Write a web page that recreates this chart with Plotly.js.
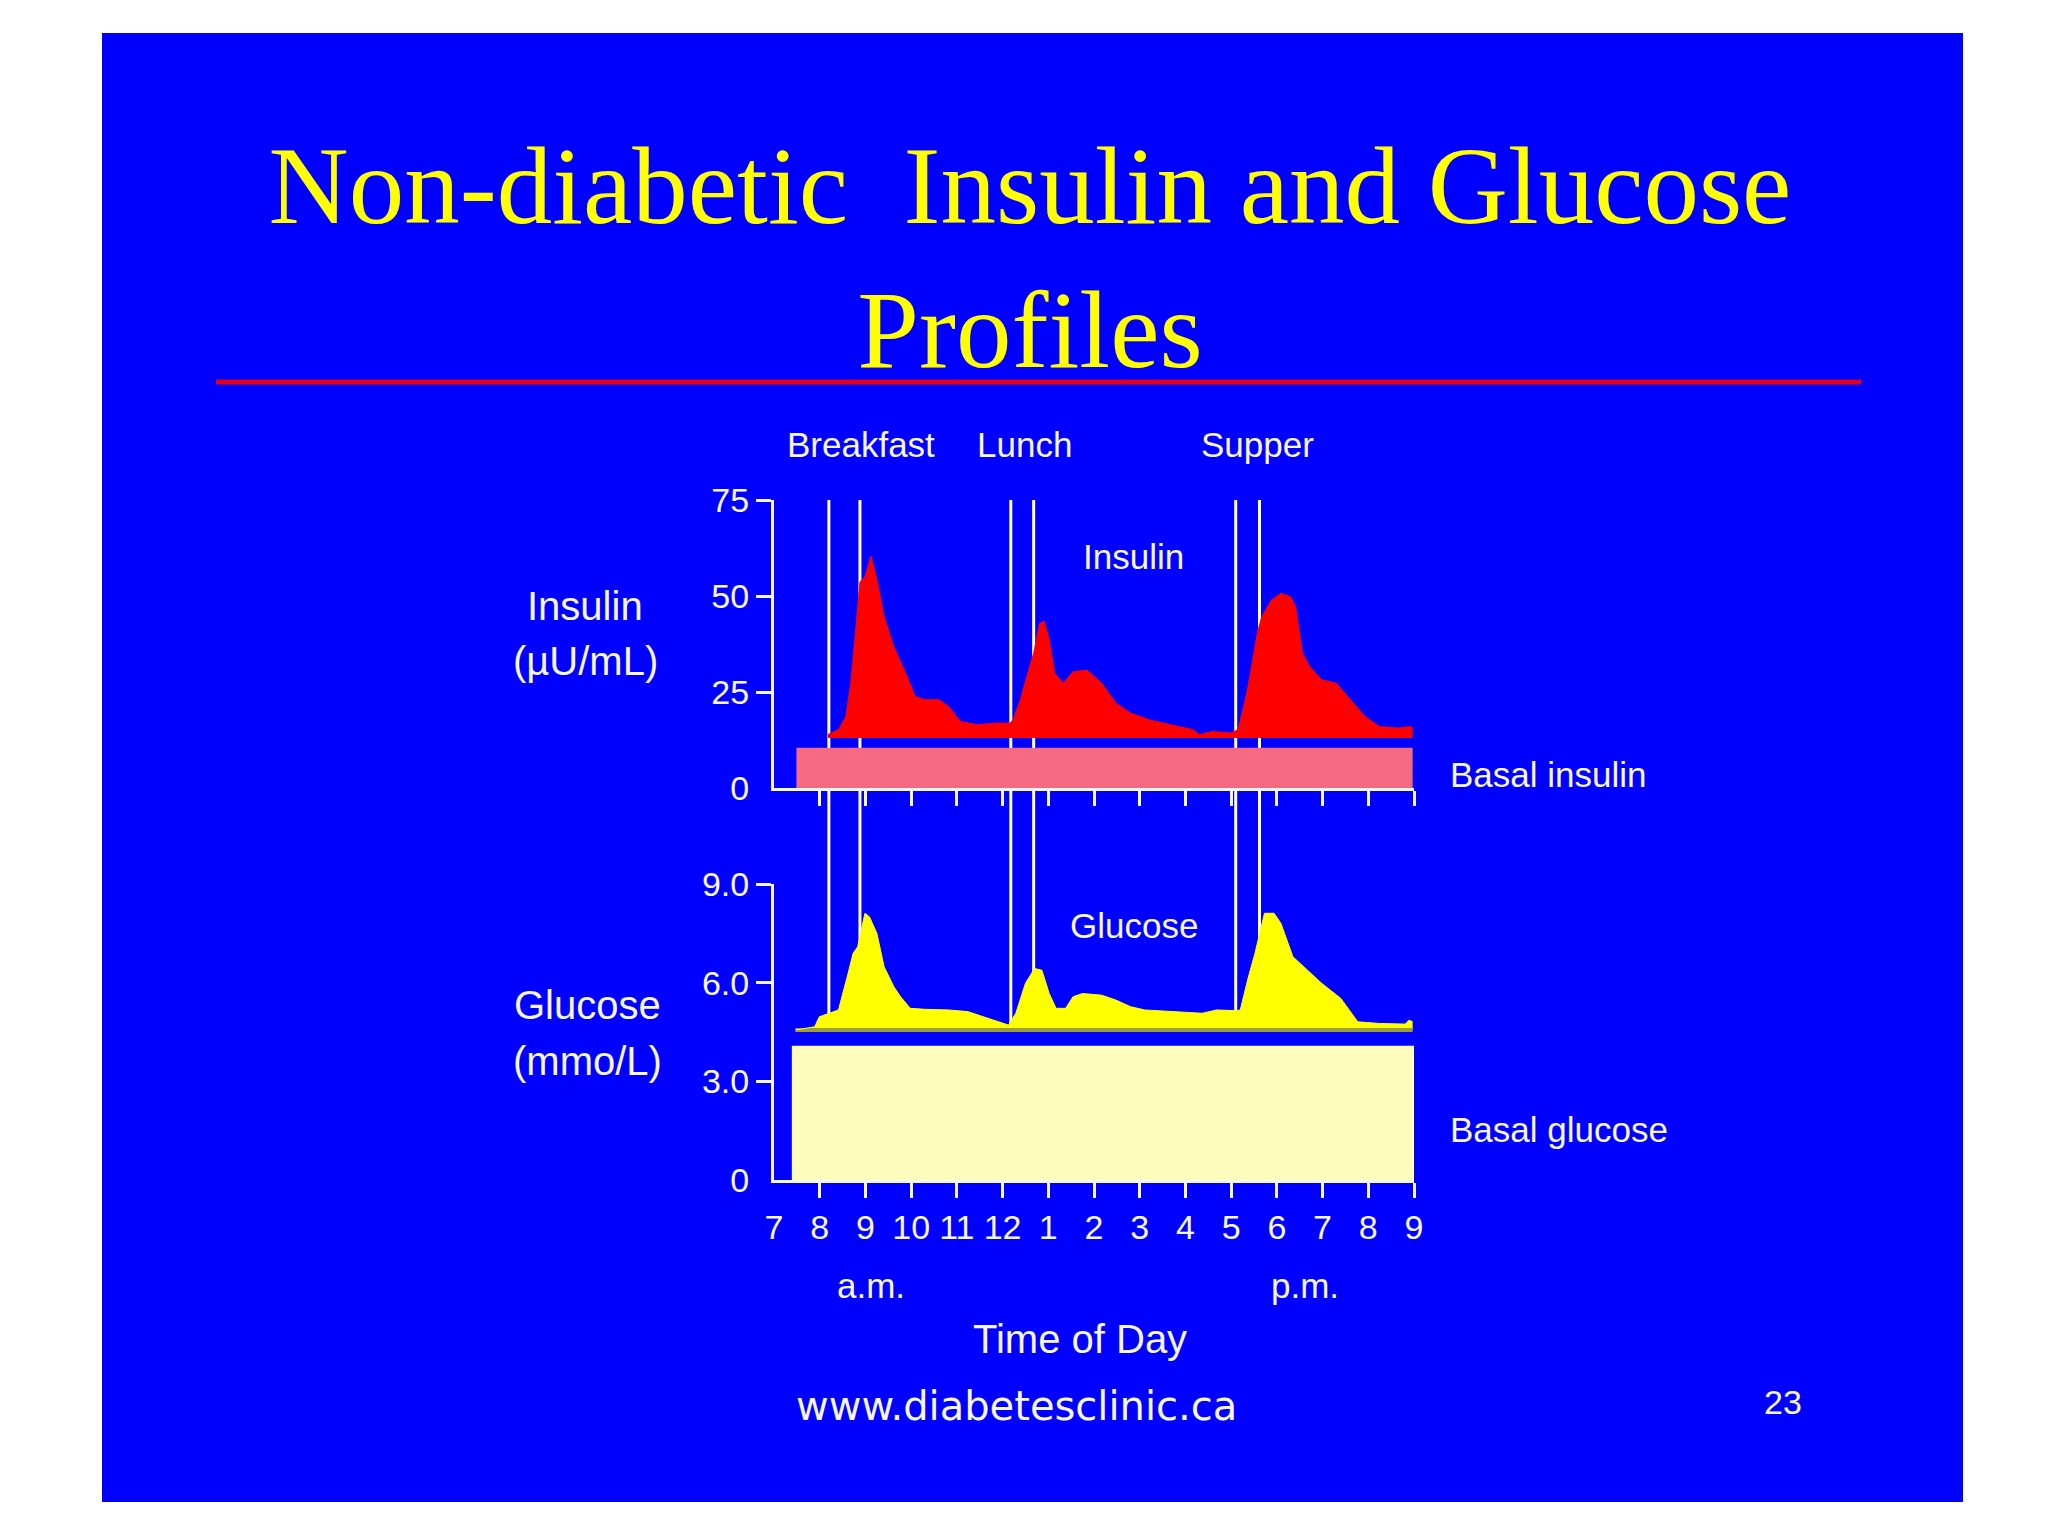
<!DOCTYPE html>
<html>
<head>
<meta charset="utf-8">
<script src="https://cdn.plot.ly/plotly-3.0.1.min.js"></script>
<style>
html, body { margin: 0; padding: 0; background: #ffffff; }
#chart { width: 2048px; height: 1536px; }
</style>
</head>
<body>
<div id="chart"></div>
<script>
// ---------------- data ----------------
const hourTicks = [7, 8, 9, 10, 11, 12, 13, 14, 15, 16, 17, 18, 19, 20, 21];
const hourLabels = ['7', '8', '9', '10', '11', '12', '1', '2', '3', '4', '5', '6', '7', '8', '9'];
const hourMarks = [8, 9, 10, 11, 12, 13, 14, 15, 16, 17, 18, 19, 20, 21];

const insulinTicks = [0, 25, 50, 75];
const insulinTickLabels = ['0', '25', '50', '75'];
const glucoseTicks = [0, 3, 6, 9];
const glucoseTickLabels = ['0', '3.0', '6.0', '9.0'];

const mealNames = ['Breakfast', 'Lunch', 'Supper'];
const mealStart = [8.2, 12.18, 17.1];
const mealEnd = [8.88, 12.68, 17.62];

const insulinTime = [8.18, 8.41, 8.57, 8.68, 8.78, 8.88, 8.99, 9.12, 9.25, 9.41, 9.62, 9.88, 10.09, 10.30,
  10.61, 10.82, 11.08, 11.45, 11.87, 12.16, 12.23, 12.39, 12.55, 12.68, 12.81, 12.91, 13.02, 13.14, 13.33,
  13.54, 13.85, 14.17, 14.48, 14.80, 15.22, 15.84, 16.16, 16.31, 16.58, 16.99, 17.15, 17.31, 17.41, 17.57,
  17.67, 17.88, 18.09, 18.30, 18.41, 18.56, 18.72, 18.98, 19.30, 19.61, 19.93, 20.24, 20.66, 20.92, 20.97];
const insulinValue = [13.9, 15.2, 18.6, 27.3, 40.3, 53.7, 55.0, 60.4, 54.2, 44.6, 36.8, 29.9, 23.8, 23.0,
  23.0, 21.2, 17.3, 16.5, 16.9, 16.9, 17.7, 23.0, 29.9, 35.1, 42.9, 43.4, 38.6, 29.9, 27.3,
  30.3, 30.7, 27.3, 22.1, 19.5, 17.7, 16.0, 15.2, 13.9, 14.7, 14.3, 15.2, 23.0, 29.0, 40.3,
  44.6, 48.9, 50.7, 49.8, 47.2, 35.1, 31.6, 28.2, 27.3, 23.0, 18.6, 16.0, 15.6, 16.0, 15.6];
const insulinBaseline = 13.0;
const basalInsulinSpan = [7.49, 20.97];
const basalInsulinLevel = 10.5;

const glucoseTime = [7.47, 7.89, 7.99, 8.41, 8.62, 8.73, 8.83, 8.99, 9.09, 9.25, 9.41, 9.62, 9.77, 9.98,
  10.30, 10.82, 11.24, 11.66, 12.13, 12.29, 12.50, 12.70, 12.86, 13.02, 13.17, 13.38, 13.54, 13.75, 14.17,
  14.48, 14.80, 15.11, 15.84, 16.37, 16.68, 17.10, 17.20, 17.36, 17.52, 17.73, 17.94, 18.09, 18.35, 18.67,
  18.98, 19.40, 19.77, 20.24, 20.81, 20.89, 20.97];
const glucoseValue = [4.56, 4.66, 4.96, 5.17, 6.28, 6.89, 7.09, 8.11, 8.00, 7.50, 6.48, 5.88, 5.57, 5.22,
  5.19, 5.17, 5.12, 4.92, 4.71, 5.07, 5.98, 6.43, 6.38, 5.67, 5.22, 5.22, 5.57, 5.67, 5.62,
  5.47, 5.27, 5.17, 5.12, 5.07, 5.17, 5.15, 5.17, 6.08, 6.89, 8.11, 8.11, 7.80, 6.79, 6.38,
  5.98, 5.52, 4.81, 4.76, 4.74, 4.86, 4.81];
const glucoseBaseline = 4.56;
const basalGlucoseSpan = [7.39, 21];
const basalGlucoseLevel = 4.08;

// ---------------- layout helpers ----------------
const W = 2048, H = 1536;
const px = v => v / W;
const py = v => 1 - v / H;

const xDomain = [px(774), px(1414)];
const insDomain = [py(788), py(500)];
const gluDomain = [py(1180), py(884)];

const WHITE = '#F6F6FF';
const SANS = 'Liberation Sans, Arial, sans-serif';

function lastOf(a) { return a[a.length - 1]; }

const traces = [
  { // basal insulin band
    x: basalInsulinSpan, y: [basalInsulinLevel, basalInsulinLevel],
    xaxis: 'x', yaxis: 'y', mode: 'lines', line: { width: 0, color: '#F56A80' },
    fill: 'tozeroy', fillcolor: '#F56A80', hoverinfo: 'skip', name: 'Basal insulin'
  },
  { // insulin fill baseline
    x: [insulinTime[0], lastOf(insulinTime)], y: [insulinBaseline, insulinBaseline],
    xaxis: 'x', yaxis: 'y', mode: 'lines', line: { width: 0, color: '#FF0000' },
    hoverinfo: 'skip', name: 'insulin base'
  },
  { // insulin profile
    x: insulinTime, y: insulinValue, xaxis: 'x', yaxis: 'y', mode: 'lines',
    line: { width: 1, color: '#FF0000' }, fill: 'tonexty', fillcolor: '#FF0000', name: 'Insulin'
  },
  { // basal glucose block
    x: basalGlucoseSpan, y: [basalGlucoseLevel, basalGlucoseLevel],
    xaxis: 'x2', yaxis: 'y2', mode: 'lines', line: { width: 0, color: '#FCFCBC' },
    fill: 'tozeroy', fillcolor: '#FCFCBC', hoverinfo: 'skip', name: 'Basal glucose'
  },
  { // glucose fill baseline
    x: [glucoseTime[0], lastOf(glucoseTime)], y: [glucoseBaseline, glucoseBaseline],
    xaxis: 'x2', yaxis: 'y2', mode: 'lines', line: { width: 4, color: '#9C9C46' },
    hoverinfo: 'skip', name: 'glucose base'
  },
  { // glucose profile
    x: glucoseTime, y: glucoseValue, xaxis: 'x2', yaxis: 'y2', mode: 'lines',
    line: { width: 1, color: '#FFFF00' }, fill: 'tonexty', fillcolor: '#FFFF00', name: 'Glucose'
  }
];

const baseAxis = {
  domain: xDomain, range: [7, 21], showline: true, linecolor: WHITE, linewidth: 3,
  showgrid: false, zeroline: false, fixedrange: true,
  tickfont: { family: SANS, size: 34, color: WHITE }
};

const lineBottom = gluDomain[0] + (glucoseBaseline / 9) * (gluDomain[1] - gluDomain[0]);
const shapes = [
  { type: 'rect', xref: 'paper', yref: 'paper', x0: px(102), x1: px(1963), y0: py(1502), y1: py(33),
    fillcolor: '#0000FF', line: { width: 0 }, layer: 'below' },
  { type: 'line', xref: 'paper', yref: 'paper', x0: px(216), x1: px(1861), y0: py(382), y1: py(382),
    line: { color: '#E0001C', width: 5 }, layer: 'below' }
];
mealStart.concat(mealEnd).forEach(t => {
  shapes.push({ type: 'line', xref: 'x', yref: 'paper', x0: t, x1: t, y0: lineBottom, y1: insDomain[1],
    line: { color: '#FFFFFF', width: 3 }, layer: 'below' });
});

function note(text, x, y, size, extra) {
  return Object.assign({ text: text, xref: 'paper', yref: 'paper', x: px(x), y: py(y),
    xanchor: 'center', yanchor: 'middle', showarrow: false,
    font: { family: SANS, size: size, color: WHITE } }, extra || {});
}

const annotations = [
  note(mealNames[0], 861, 444, 35),
  note(mealNames[1], 1024, 444, 35),
  note(mealNames[2], 1257, 444, 35),
  note('Insulin', 1133, 557, 35),
  note('Glucose', 1134, 925, 35),
  note('Insulin', 585, 606, 40),
  note('(µU/mL)', 585, 661, 40),
  note('Glucose', 587, 1005, 40),
  note('(mmo/L)', 587, 1061, 40),
  note('Basal insulin', 1448, 774, 35, { xanchor: 'left' }),
  note('Basal glucose', 1448, 1129, 35, { xanchor: 'left' }),
  note('a.m.', 871, 1285, 35),
  note('p.m.', 1305, 1285, 35),
  note('Time of Day', 1080, 1339, 40),
  note('www.diabetesclinic.ca', 1016, 1406, 40, { font: { family: 'DejaVu Sans, Verdana, sans-serif', size: 40, color: WHITE } }),
  note('23', 1783, 1402, 34)
];

const layout = {
  width: W, height: H,
  margin: { l: 0, r: 0, t: 0, b: 0, pad: 0 },
  paper_bgcolor: '#FFFFFF', plot_bgcolor: 'rgba(0,0,0,0)',
  showlegend: false,
  font: { family: SANS, size: 34, color: WHITE },
  title: {
    text: 'Non-diabetic\u00a0 Insulin and Glucose<br>Profiles',
    font: { family: 'Liberation Serif, Times New Roman, serif', size: 111, color: '#FFFF00' },
    xref: 'container', yref: 'container', x: px(1030), xanchor: 'center',
    y: py(223), yanchor: 'top'
  },
  xaxis: Object.assign({}, baseAxis, {
    anchor: 'y', tickmode: 'array', tickvals: hourMarks, ticks: 'outside', ticklen: 15, tickwidth: 3,
    tickcolor: WHITE, showticklabels: false
  }),
  xaxis2: Object.assign({}, baseAxis, {
    anchor: 'y2', tickmode: 'array', tickvals: hourTicks, ticktext: hourLabels,
    ticks: 'outside', ticklen: 15, tickwidth: 3, tickcolor: 'rgba(0,0,0,0)',
    minor: { tickmode: 'array', tickvals: hourMarks, ticks: 'outside', ticklen: 15, tickwidth: 3, tickcolor: WHITE, showgrid: false }
  }),
  yaxis: {
    domain: insDomain, range: [0, 75], anchor: 'x', showline: true, linecolor: WHITE, linewidth: 3,
    showgrid: false, zeroline: false, fixedrange: true,
    tickmode: 'array', tickvals: insulinTicks, ticktext: insulinTickLabels,
    ticks: 'outside', ticklen: 15, tickwidth: 3, tickcolor: 'rgba(0,0,0,0)',
    minor: { tickmode: 'array', tickvals: insulinTicks.slice(1), ticks: 'outside', ticklen: 15, tickwidth: 3, tickcolor: WHITE, showgrid: false },
    tickfont: { family: SANS, size: 34, color: WHITE }
  },
  yaxis2: {
    domain: gluDomain, range: [0, 9], anchor: 'x2', showline: true, linecolor: WHITE, linewidth: 3,
    showgrid: false, zeroline: false, fixedrange: true,
    tickmode: 'array', tickvals: glucoseTicks, ticktext: glucoseTickLabels,
    ticks: 'outside', ticklen: 15, tickwidth: 3, tickcolor: 'rgba(0,0,0,0)',
    minor: { tickmode: 'array', tickvals: glucoseTicks.slice(1), ticks: 'outside', ticklen: 15, tickwidth: 3, tickcolor: WHITE, showgrid: false },
    tickfont: { family: SANS, size: 34, color: WHITE }
  },
  shapes: shapes,
  annotations: annotations
};

Plotly.newPlot('chart', traces, layout, { staticPlot: true, displayModeBar: false });
</script>
</body>
</html>
